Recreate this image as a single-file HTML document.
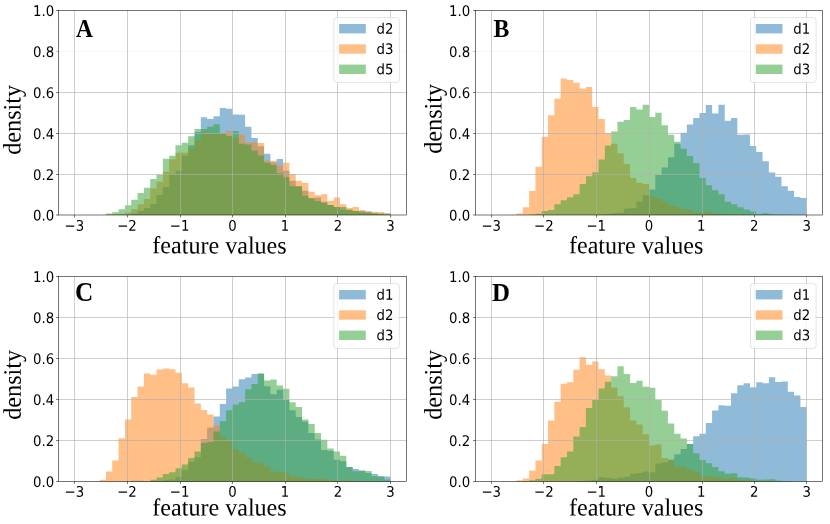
<!DOCTYPE html>
<html><head><meta charset="utf-8"><title>feature value densities</title>
<style>
html,body{margin:0;padding:0;background:#fff}
svg{display:block}
.t{font-family:"DejaVu Sans","Liberation Sans",sans-serif;font-size:13.3px;fill:#000}
.l{font-family:"Liberation Serif","Times New Roman",serif;font-size:24px;fill:#000}
.b{font-family:"Liberation Serif","Times New Roman",serif;font-size:24px;font-weight:bold;fill:#000}
</style></head><body>
<svg width="830" height="524" viewBox="0 0 830 524">
<rect width="830" height="524" fill="#fff"/>
<g id="panel-A">
<path d="M74.31 215.00V215.00H80.64V215.00H86.96V215.00H93.29V215.00H99.62V215.00H105.94V214.90H112.27V214.80H118.59V214.59H124.92V214.18H131.24V213.57H137.57V211.11H143.89V208.05H150.22V203.96H156.54V194.96H162.87V186.98H169.20V174.10H175.52V170.62H181.85V155.49H188.17V145.27H194.50V131.97H200.82V117.25H207.15V119.09H213.47V116.23H219.80V108.05H226.12V108.66H232.45V114.39H238.78V114.80H245.10V126.86H251.43V138.11H257.75V146.29H264.08V153.85H270.40V162.24H276.73V158.97H283.05V170.83H289.38V180.64H295.70V186.37H302.03V190.66H308.36V198.23H314.68V197.62H321.01V201.71H327.33V204.98H333.66V207.02H339.98V209.68H346.31V209.68H352.63V211.11H358.96V211.11H365.28V211.32H371.61V213.16H377.94V213.77H384.26V213.57H390.59V215.00Z" fill="#1f77b4" fill-opacity="0.5"/>
<path d="M74.31 215.00V215.00H80.64V215.00H86.96V215.00H93.29V215.00H99.62V215.00H105.94V214.80H112.27V214.39H118.59V214.18H124.92V212.55H131.24V209.27H137.57V204.16H143.89V199.05H150.22V188.62H156.54V181.67H162.87V171.85H169.20V159.17H175.52V152.63H181.85V152.63H188.17V148.33H194.50V140.15H200.82V132.18H207.15V133.20H213.47V133.20H219.80V133.61H226.12V131.36H232.45V137.49H238.78V134.84H245.10V142.61H251.43V142.20H257.75V143.02H264.08V160.40H270.40V160.81H276.73V165.51H283.05V162.85H289.38V174.10H295.70V180.85H302.03V182.89H308.36V191.69H314.68V195.16H321.01V194.35H327.33V201.09H333.66V197.62H339.98V204.16H346.31V207.84H352.63V207.02H358.96V209.89H365.28V211.93H371.61V211.73H377.94V211.93H384.26V213.57H390.59V215.00Z" fill="#ff7f0e" fill-opacity="0.5"/>
<path d="M74.31 215.00V215.00H80.64V215.00H86.96V215.00H93.29V215.00H99.62V215.00H105.94V213.57H112.27V212.14H118.59V209.27H124.92V205.18H131.24V199.87H137.57V193.12H143.89V187.80H150.22V179.01H156.54V174.71H162.87V158.76H169.20V155.69H175.52V145.27H181.85V142.81H188.17V136.27H194.50V128.91H200.82V129.11H207.15V126.86H213.47V124.20H219.80V133.20H226.12V136.06H232.45V130.95H238.78V143.83H245.10V144.45H251.43V150.58H257.75V155.49H264.08V162.65H270.40V165.10H276.73V173.28H283.05V177.37H289.38V186.37H295.70V186.37H302.03V195.78H308.36V198.23H314.68V201.09H321.01V202.73H327.33V204.98H333.66V207.02H339.98V207.02H346.31V209.68H352.63V211.11H358.96V212.14H365.28V212.75H371.61V213.16H377.94V213.77H384.26V214.39H390.59V215.00Z" fill="#2ca02c" fill-opacity="0.5"/>
<path d="M74.5 10.5V215.0M127.5 10.5V215.0M180.5 10.5V215.0M232.5 10.5V215.0M285.5 10.5V215.0M337.5 10.5V215.0M390.5 10.5V215.0" stroke="#b0b0b0" stroke-width="0.62" fill="none"/>
<path d="M58.5 174.5H406.5" stroke="#b0b0b0" stroke-width="0.62" stroke-opacity="1" fill="none"/>
<path d="M58.5 133.5H406.5" stroke="#b0b0b0" stroke-width="0.62" stroke-opacity="1" fill="none"/>
<path d="M58.5 92.5H406.5" stroke="#b0b0b0" stroke-width="0.62" stroke-opacity="1" fill="none"/>
<path d="M58.5 51.5H406.5" stroke="#b0b0b0" stroke-width="0.62" stroke-opacity="0.15" fill="none"/>
<path d="M74.5 215.0v2.4M127.5 215.0v2.4M180.5 215.0v2.4M232.5 215.0v2.4M285.5 215.0v2.4M337.5 215.0v2.4M390.5 215.0v2.4M58.5 215.0h-2.4M58.5 174.5h-2.4M58.5 133.5h-2.4M58.5 92.5h-2.4M58.5 10.5h-2.4" stroke="#000" stroke-width="0.54" fill="none"/>
<path d="M58.5 51.5h-2.4" stroke="#000" stroke-width="0.54" stroke-opacity="0.45" fill="none"/>
<rect x="58.5" y="10.5" width="348.00" height="204.50" fill="none" stroke="#000" stroke-width="0.54"/>
<text class="t" transform="translate(74.31 230.70) scale(1 1.1) rotate(0.05)" text-anchor="middle">−3</text>
<text class="t" transform="translate(127.03 230.70) scale(1 1.1) rotate(0.05)" text-anchor="middle">−2</text>
<text class="t" transform="translate(179.54 230.70) scale(1 1.1) rotate(0.05)" text-anchor="middle">−1</text>
<text class="t" transform="translate(232.45 230.70) scale(1 1.1) rotate(0.05)" text-anchor="middle">0</text>
<text class="t" transform="translate(284.86 230.70) scale(1 1.1) rotate(0.05)" text-anchor="middle">1</text>
<text class="t" transform="translate(337.87 230.70) scale(1 1.1) rotate(0.05)" text-anchor="middle">2</text>
<text class="t" transform="translate(390.59 230.70) scale(1 1.1) rotate(0.05)" text-anchor="middle">3</text>
<text class="t" transform="translate(54.10 220.50) scale(1 1.1) rotate(0.05)" text-anchor="end">0.0</text>
<text class="t" transform="translate(54.10 180.00) scale(1 1.1) rotate(0.05)" text-anchor="end">0.2</text>
<text class="t" transform="translate(54.10 139.00) scale(1 1.1) rotate(0.05)" text-anchor="end">0.4</text>
<text class="t" transform="translate(54.10 98.00) scale(1 1.1) rotate(0.05)" text-anchor="end">0.6</text>
<text class="t" transform="translate(54.10 57.00) scale(1 1.1) rotate(0.05)" text-anchor="end">0.8</text>
<text class="t" transform="translate(54.10 16.00) scale(1 1.1) rotate(0.05)" text-anchor="end">1.0</text>
<text class="l" transform="translate(219.50 253.40) scale(1.004 1.02) rotate(0.03)" text-anchor="middle">feature values</text>
<text class="l" transform="translate(20.60 119.80) rotate(-90.03) scale(1.01 1.05)" text-anchor="middle">density</text>
<text class="b" transform="translate(76.10 36.70) scale(0.977 1.04)">A</text>
<rect x="333.80" y="17.60" width="65.6" height="64.8" rx="2.6" fill="#fff" fill-opacity="0.8" stroke="#ccc" stroke-opacity="0.8" stroke-width="0.66"/>
<rect x="339.10" y="24.00" width="26.7" height="9.4" fill="#1f77b4" fill-opacity="0.5"/>
<text class="t" transform="translate(376.60 33.75) scale(1 1.09) rotate(0.05)">d2</text>
<rect x="339.10" y="44.30" width="26.7" height="9.4" fill="#ff7f0e" fill-opacity="0.5"/>
<text class="t" transform="translate(376.60 54.05) scale(1 1.09) rotate(0.05)">d3</text>
<rect x="339.10" y="64.60" width="26.7" height="9.4" fill="#2ca02c" fill-opacity="0.5"/>
<text class="t" transform="translate(376.60 74.35) scale(1 1.09) rotate(0.05)">d5</text>
</g>
<g id="panel-B">
<path d="M491.27 215.00V215.00H497.58V215.00H503.89V215.00H510.20V215.00H516.51V215.00H522.82V215.00H529.13V215.00H535.44V215.00H541.75V215.00H548.05V215.00H554.36V215.00H560.67V215.00H566.98V215.00H573.29V215.00H579.60V215.00H585.91V215.00H592.22V214.80H598.53V214.59H604.84V213.98H611.15V213.16H617.45V212.75H623.76V208.46H630.07V208.05H636.38V201.50H642.69V195.16H649.00V189.44H655.31V175.12H661.62V167.56H667.93V157.13H674.24V143.63H680.55V132.79H686.85V124.61H693.16V118.07H699.47V112.95H705.78V104.98H712.09V113.57H718.40V104.77H724.71V120.73H731.02V118.07H737.33V134.63H743.64V134.43H749.95V145.88H756.25V152.01H762.56V161.22H768.87V172.46H775.18V176.76H781.49V186.37H787.80V190.66H794.11V197.00H800.42V198.03H806.73V215.00Z" fill="#1f77b4" fill-opacity="0.5"/>
<path d="M491.27 215.00V215.00H497.58V215.00H503.89V215.00H510.20V214.80H516.51V213.57H522.82V207.23H529.13V191.07H535.44V166.74H541.75V136.68H548.05V115.20H554.36V98.64H560.67V78.39H566.98V80.03H573.29V82.69H579.60V88.62H585.91V86.98H592.22V107.02H598.53V119.09H604.84V133.00H611.15V143.83H617.45V153.24H623.76V163.88H630.07V177.99H636.38V182.69H642.69V184.12H649.00V196.39H655.31V198.44H661.62V201.50H667.93V205.18H674.24V207.02H680.55V209.07H686.85V210.09H693.16V211.93H699.47V212.75H705.78V211.52H712.09V213.16H718.40V213.57H724.71V213.98H731.02V214.39H737.33V214.59H743.64V214.80H749.95V215.00H756.25V215.00H762.56V215.00H768.87V215.00H775.18V215.00H781.49V215.00H787.80V215.00H794.11V215.00H800.42V215.00H806.73V215.00Z" fill="#ff7f0e" fill-opacity="0.5"/>
<path d="M491.27 215.00V215.00H497.58V215.00H503.89V215.00H510.20V215.00H516.51V215.00H522.82V215.00H529.13V214.59H535.44V213.77H541.75V211.11H548.05V209.89H554.36V204.37H560.67V200.28H566.98V197.21H573.29V194.35H579.60V184.12H585.91V176.35H592.22V172.26H598.53V159.38H604.84V145.47H611.15V131.56H617.45V121.75H623.76V119.91H630.07V107.02H636.38V109.48H642.69V104.77H649.00V117.04H655.31V112.75H661.62V125.22H667.93V134.84H674.24V141.79H680.55V148.74H686.85V155.90H693.16V163.06H699.47V177.99H705.78V185.14H712.09V190.26H718.40V194.35H724.71V201.71H731.02V204.37H737.33V207.23H743.64V209.48H749.95V211.52H756.25V213.98H762.56V213.36H768.87V213.98H775.18V214.39H781.49V214.59H787.80V214.80H794.11V215.00H800.42V215.00H806.73V215.00Z" fill="#2ca02c" fill-opacity="0.5"/>
<path d="M491.5 10.5V215.0M543.5 10.5V215.0M596.5 10.5V215.0M649.5 10.5V215.0M702.5 10.5V215.0M754.5 10.5V215.0M806.5 10.5V215.0" stroke="#b0b0b0" stroke-width="0.62" fill="none"/>
<path d="M475.5 174.5H822.5" stroke="#b0b0b0" stroke-width="0.62" stroke-opacity="1" fill="none"/>
<path d="M475.5 133.5H822.5" stroke="#b0b0b0" stroke-width="0.62" stroke-opacity="1" fill="none"/>
<path d="M475.5 92.5H822.5" stroke="#b0b0b0" stroke-width="0.62" stroke-opacity="1" fill="none"/>
<path d="M475.5 51.5H822.5" stroke="#b0b0b0" stroke-width="0.62" stroke-opacity="0.15" fill="none"/>
<path d="M491.5 215.0v2.4M543.5 215.0v2.4M596.5 215.0v2.4M649.5 215.0v2.4M702.5 215.0v2.4M754.5 215.0v2.4M806.5 215.0v2.4M475.5 215.0h-2.4M475.5 174.5h-2.4M475.5 133.5h-2.4M475.5 92.5h-2.4M475.5 10.5h-2.4" stroke="#000" stroke-width="0.54" fill="none"/>
<path d="M475.5 51.5h-2.4" stroke="#000" stroke-width="0.54" stroke-opacity="0.45" fill="none"/>
<rect x="475.5" y="10.5" width="347.00" height="204.50" fill="none" stroke="#000" stroke-width="0.54"/>
<text class="t" transform="translate(491.27 230.70) scale(1 1.1) rotate(0.05)" text-anchor="middle">−3</text>
<text class="t" transform="translate(543.85 230.70) scale(1 1.1) rotate(0.05)" text-anchor="middle">−2</text>
<text class="t" transform="translate(596.22 230.70) scale(1 1.1) rotate(0.05)" text-anchor="middle">−1</text>
<text class="t" transform="translate(649.00 230.70) scale(1 1.1) rotate(0.05)" text-anchor="middle">0</text>
<text class="t" transform="translate(701.28 230.70) scale(1 1.1) rotate(0.05)" text-anchor="middle">1</text>
<text class="t" transform="translate(754.15 230.70) scale(1 1.1) rotate(0.05)" text-anchor="middle">2</text>
<text class="t" transform="translate(806.73 230.70) scale(1 1.1) rotate(0.05)" text-anchor="middle">3</text>
<text class="t" transform="translate(470.10 220.50) scale(1 1.1) rotate(0.05)" text-anchor="end">0.0</text>
<text class="t" transform="translate(470.10 180.00) scale(1 1.1) rotate(0.05)" text-anchor="end">0.2</text>
<text class="t" transform="translate(470.10 139.00) scale(1 1.1) rotate(0.05)" text-anchor="end">0.4</text>
<text class="t" transform="translate(470.10 98.00) scale(1 1.1) rotate(0.05)" text-anchor="end">0.6</text>
<text class="t" transform="translate(470.10 57.00) scale(1 1.1) rotate(0.05)" text-anchor="end">0.8</text>
<text class="t" transform="translate(470.10 16.00) scale(1 1.1) rotate(0.05)" text-anchor="end">1.0</text>
<text class="l" transform="translate(636.10 253.40) scale(1.004 1.02) rotate(0.03)" text-anchor="middle">feature values</text>
<text class="l" transform="translate(441.60 118.80) rotate(-90.03) scale(1.01 1.05)" text-anchor="middle">density</text>
<text class="b" transform="translate(493.60 36.70) scale(0.99 1.035)">B</text>
<rect x="750.50" y="17.60" width="65.6" height="64.8" rx="2.6" fill="#fff" fill-opacity="0.8" stroke="#ccc" stroke-opacity="0.8" stroke-width="0.66"/>
<rect x="755.80" y="24.00" width="26.7" height="9.4" fill="#1f77b4" fill-opacity="0.5"/>
<text class="t" transform="translate(793.30 33.75) scale(1 1.09) rotate(0.05)">d1</text>
<rect x="755.80" y="44.30" width="26.7" height="9.4" fill="#ff7f0e" fill-opacity="0.5"/>
<text class="t" transform="translate(793.30 54.05) scale(1 1.09) rotate(0.05)">d2</text>
<rect x="755.80" y="64.60" width="26.7" height="9.4" fill="#2ca02c" fill-opacity="0.5"/>
<text class="t" transform="translate(793.30 74.35) scale(1 1.09) rotate(0.05)">d3</text>
</g>
<g id="panel-C">
<path d="M74.31 481.50V481.50H80.64V481.50H86.96V481.50H93.29V481.50H99.62V481.50H105.94V481.50H112.27V481.50H118.59V481.50H124.92V481.50H131.24V481.50H137.57V481.50H143.89V481.30H150.22V481.09H156.54V480.88H162.87V480.27H169.20V479.45H175.52V476.79H181.85V469.81H188.17V461.82H194.50V457.31H200.82V439.06H207.15V427.38H213.47V416.51H219.80V404.01H226.12V388.43H232.45V386.58H238.78V379.20H245.10V377.56H251.43V374.08H257.75V374.08H264.08V386.18H270.40V394.17H276.73V389.66H283.05V399.91H289.38V410.16H295.70V416.93H302.03V421.44H308.36V433.12H314.68V439.48H321.01V449.93H327.33V450.75H333.66V459.77H339.98V461.20H346.31V466.94H352.63V469.00H358.96V470.63H365.28V473.10H371.61V473.92H377.94V475.96H384.26V476.58H390.59V481.50Z" fill="#1f77b4" fill-opacity="0.5"/>
<path d="M74.31 481.50V481.50H80.64V481.50H86.96V481.50H93.29V481.30H99.62V479.86H105.94V471.45H112.27V460.38H118.59V438.25H124.92V419.38H131.24V397.04H137.57V386.38H143.89V373.46H150.22V374.69H156.54V369.57H162.87V368.54H169.20V369.37H175.52V372.64H181.85V383.31H188.17V387.61H194.50V403.39H200.82V409.95H207.15V414.47H213.47V425.53H219.80V436.40H226.12V441.12H232.45V448.90H238.78V452.80H245.10V457.31H251.43V462.02H257.75V463.46H264.08V466.54H270.40V471.87H276.73V471.25H283.05V472.69H289.38V476.58H295.70V476.99H302.03V478.22H308.36V479.04H314.68V479.04H321.01V478.63H327.33V479.86H333.66V480.27H339.98V480.48H346.31V480.68H352.63V480.88H358.96V481.09H365.28V481.09H371.61V481.30H377.94V481.30H384.26V481.30H390.59V481.50Z" fill="#ff7f0e" fill-opacity="0.5"/>
<path d="M74.31 481.50V481.50H80.64V481.50H86.96V481.50H93.29V481.50H99.62V481.50H105.94V481.50H112.27V481.50H118.59V481.50H124.92V481.50H131.24V480.68H137.57V480.68H143.89V481.30H150.22V479.65H156.54V477.61H162.87V473.92H169.20V472.27H175.52V468.18H181.85V464.49H188.17V457.93H194.50V451.57H200.82V442.96H207.15V441.94H213.47V431.48H219.80V421.23H226.12V410.37H232.45V404.62H238.78V402.37H245.10V389.25H251.43V384.12H257.75V373.26H264.08V380.44H270.40V379.62H276.73V385.56H283.05V388.63H289.38V402.37H295.70V407.09H302.03V419.38H308.36V424.10H314.68V433.12H321.01V439.68H327.33V448.50H333.66V451.57H339.98V455.67H346.31V466.94H352.63V471.25H358.96V470.43H365.28V471.05H371.61V476.17H377.94V476.99H384.26V479.45H390.59V481.50Z" fill="#2ca02c" fill-opacity="0.5"/>
<path d="M74.5 276.5V481.5M127.5 276.5V481.5M180.5 276.5V481.5M232.5 276.5V481.5M285.5 276.5V481.5M337.5 276.5V481.5M390.5 276.5V481.5" stroke="#b0b0b0" stroke-width="0.62" fill="none"/>
<path d="M58.5 440.5H406.5" stroke="#b0b0b0" stroke-width="0.62" stroke-opacity="1" fill="none"/>
<path d="M58.5 399.5H406.5" stroke="#b0b0b0" stroke-width="0.62" stroke-opacity="1" fill="none"/>
<path d="M58.5 358.5H406.5" stroke="#b0b0b0" stroke-width="0.62" stroke-opacity="1" fill="none"/>
<path d="M58.5 317.5H406.5" stroke="#b0b0b0" stroke-width="0.62" stroke-opacity="1" fill="none"/>
<path d="M74.5 481.5v2.4M127.5 481.5v2.4M180.5 481.5v2.4M232.5 481.5v2.4M285.5 481.5v2.4M337.5 481.5v2.4M390.5 481.5v2.4M58.5 481.5h-2.4M58.5 440.5h-2.4M58.5 399.5h-2.4M58.5 358.5h-2.4M58.5 317.5h-2.4M58.5 276.5h-2.4" stroke="#000" stroke-width="0.54" fill="none"/>
<rect x="58.5" y="276.5" width="348.00" height="205.00" fill="none" stroke="#000" stroke-width="0.54"/>
<text class="t" transform="translate(74.31 496.70) scale(1 1.1) rotate(0.05)" text-anchor="middle">−3</text>
<text class="t" transform="translate(127.03 496.70) scale(1 1.1) rotate(0.05)" text-anchor="middle">−2</text>
<text class="t" transform="translate(179.54 496.70) scale(1 1.1) rotate(0.05)" text-anchor="middle">−1</text>
<text class="t" transform="translate(232.45 496.70) scale(1 1.1) rotate(0.05)" text-anchor="middle">0</text>
<text class="t" transform="translate(284.86 496.70) scale(1 1.1) rotate(0.05)" text-anchor="middle">1</text>
<text class="t" transform="translate(337.87 496.70) scale(1 1.1) rotate(0.05)" text-anchor="middle">2</text>
<text class="t" transform="translate(390.59 496.70) scale(1 1.1) rotate(0.05)" text-anchor="middle">3</text>
<text class="t" transform="translate(54.10 487.00) scale(1 1.1) rotate(0.05)" text-anchor="end">0.0</text>
<text class="t" transform="translate(54.10 446.00) scale(1 1.1) rotate(0.05)" text-anchor="end">0.2</text>
<text class="t" transform="translate(54.10 405.00) scale(1 1.1) rotate(0.05)" text-anchor="end">0.4</text>
<text class="t" transform="translate(54.10 364.00) scale(1 1.1) rotate(0.05)" text-anchor="end">0.6</text>
<text class="t" transform="translate(54.10 323.00) scale(1 1.1) rotate(0.05)" text-anchor="end">0.8</text>
<text class="t" transform="translate(54.10 282.00) scale(1 1.1) rotate(0.05)" text-anchor="end">1.0</text>
<text class="l" transform="translate(219.50 515.50) scale(1.004 1.02) rotate(0.03)" text-anchor="middle">feature values</text>
<text class="l" transform="translate(20.80 384.80) rotate(-90.03) scale(1.01 1.05)" text-anchor="middle">density</text>
<text class="b" transform="translate(75.10 301.00) scale(1.055 1.098)">C</text>
<rect x="333.80" y="283.60" width="65.6" height="64.8" rx="2.6" fill="#fff" fill-opacity="0.8" stroke="#ccc" stroke-opacity="0.8" stroke-width="0.66"/>
<rect x="339.10" y="290.00" width="26.7" height="9.4" fill="#1f77b4" fill-opacity="0.5"/>
<text class="t" transform="translate(376.60 299.75) scale(1 1.09) rotate(0.05)">d1</text>
<rect x="339.10" y="310.30" width="26.7" height="9.4" fill="#ff7f0e" fill-opacity="0.5"/>
<text class="t" transform="translate(376.60 320.05) scale(1 1.09) rotate(0.05)">d2</text>
<rect x="339.10" y="330.60" width="26.7" height="9.4" fill="#2ca02c" fill-opacity="0.5"/>
<text class="t" transform="translate(376.60 340.35) scale(1 1.09) rotate(0.05)">d3</text>
</g>
<g id="panel-D">
<path d="M491.27 481.50V481.50H497.58V481.50H503.89V481.50H510.20V481.50H516.51V481.50H522.82V481.50H529.13V481.50H535.44V481.50H541.75V481.50H548.05V481.50H554.36V481.50H560.67V481.50H566.98V481.50H573.29V481.30H579.60V481.09H585.91V480.48H592.22V479.86H598.53V476.99H604.84V477.81H611.15V478.63H617.45V477.40H623.76V476.79H630.07V473.71H636.38V472.89H642.69V471.45H649.00V472.27H655.31V463.46H661.62V462.44H667.93V459.56H674.24V454.24H680.55V448.90H686.85V443.99H693.16V436.19H699.47V433.74H705.78V423.07H712.09V410.57H718.40V405.24H724.71V405.86H731.02V393.35H737.33V385.36H743.64V383.31H749.95V387.20H756.25V382.28H762.56V383.31H768.87V377.36H775.18V382.07H781.49V381.46H787.80V391.71H794.11V395.61H800.42V407.09H806.73V481.50Z" fill="#1f77b4" fill-opacity="0.5"/>
<path d="M491.27 481.50V481.50H497.58V481.50H503.89V481.50H510.20V481.30H516.51V480.27H522.82V478.43H529.13V470.43H535.44V460.59H541.75V443.99H548.05V420.62H554.36V401.75H560.67V383.72H566.98V382.28H573.29V369.77H579.60V357.27H585.91V364.65H592.22V361.57H598.53V369.37H604.84V375.51H611.15V387.61H617.45V396.22H623.76V407.29H630.07V420.62H636.38V424.51H642.69V434.35H649.00V445.62H655.31V444.60H661.62V457.93H667.93V460.59H674.24V467.36H680.55V466.54H686.85V469.81H693.16V471.87H699.47V475.76H705.78V476.58H712.09V476.99H718.40V477.81H724.71V478.43H731.02V477.40H737.33V479.65H743.64V480.06H749.95V480.48H756.25V480.88H762.56V480.88H768.87V481.09H775.18V481.30H781.49V481.50H787.80V481.50H794.11V481.50H800.42V481.50H806.73V481.50Z" fill="#ff7f0e" fill-opacity="0.5"/>
<path d="M491.27 481.50V481.50H497.58V481.50H503.89V481.50H510.20V481.50H516.51V481.50H522.82V481.09H529.13V480.27H535.44V478.63H541.75V474.32H548.05V474.32H554.36V466.12H560.67V457.31H566.98V451.57H573.29V436.40H579.60V426.97H585.91V408.11H592.22V399.91H598.53V388.43H604.84V381.67H611.15V376.33H617.45V366.29H623.76V373.88H630.07V382.89H636.38V380.64H642.69V386.79H649.00V387.81H655.31V399.91H661.62V410.77H667.93V423.49H674.24V433.74H680.55V438.45H686.85V443.99H693.16V453.21H699.47V459.98H705.78V463.25H712.09V466.94H718.40V471.25H724.71V473.71H731.02V473.30H737.33V477.19H743.64V477.61H749.95V478.43H756.25V479.65H762.56V479.45H768.87V479.25H775.18V480.48H781.49V481.09H787.80V481.30H794.11V481.50H800.42V481.50H806.73V481.50Z" fill="#2ca02c" fill-opacity="0.5"/>
<path d="M491.5 276.5V481.5M543.5 276.5V481.5M596.5 276.5V481.5M649.5 276.5V481.5M702.5 276.5V481.5M754.5 276.5V481.5M806.5 276.5V481.5" stroke="#b0b0b0" stroke-width="0.62" fill="none"/>
<path d="M475.5 440.5H822.5" stroke="#b0b0b0" stroke-width="0.62" stroke-opacity="1" fill="none"/>
<path d="M475.5 399.5H822.5" stroke="#b0b0b0" stroke-width="0.62" stroke-opacity="1" fill="none"/>
<path d="M475.5 358.5H822.5" stroke="#b0b0b0" stroke-width="0.62" stroke-opacity="1" fill="none"/>
<path d="M475.5 317.5H822.5" stroke="#b0b0b0" stroke-width="0.62" stroke-opacity="1" fill="none"/>
<path d="M491.5 481.5v2.4M543.5 481.5v2.4M596.5 481.5v2.4M649.5 481.5v2.4M702.5 481.5v2.4M754.5 481.5v2.4M806.5 481.5v2.4M475.5 481.5h-2.4M475.5 440.5h-2.4M475.5 399.5h-2.4M475.5 358.5h-2.4M475.5 317.5h-2.4M475.5 276.5h-2.4" stroke="#000" stroke-width="0.54" fill="none"/>
<rect x="475.5" y="276.5" width="347.00" height="205.00" fill="none" stroke="#000" stroke-width="0.54"/>
<text class="t" transform="translate(491.27 496.70) scale(1 1.1) rotate(0.05)" text-anchor="middle">−3</text>
<text class="t" transform="translate(543.85 496.70) scale(1 1.1) rotate(0.05)" text-anchor="middle">−2</text>
<text class="t" transform="translate(596.22 496.70) scale(1 1.1) rotate(0.05)" text-anchor="middle">−1</text>
<text class="t" transform="translate(649.00 496.70) scale(1 1.1) rotate(0.05)" text-anchor="middle">0</text>
<text class="t" transform="translate(701.28 496.70) scale(1 1.1) rotate(0.05)" text-anchor="middle">1</text>
<text class="t" transform="translate(754.15 496.70) scale(1 1.1) rotate(0.05)" text-anchor="middle">2</text>
<text class="t" transform="translate(806.73 496.70) scale(1 1.1) rotate(0.05)" text-anchor="middle">3</text>
<text class="t" transform="translate(470.10 487.00) scale(1 1.1) rotate(0.05)" text-anchor="end">0.0</text>
<text class="t" transform="translate(470.10 446.00) scale(1 1.1) rotate(0.05)" text-anchor="end">0.2</text>
<text class="t" transform="translate(470.10 405.00) scale(1 1.1) rotate(0.05)" text-anchor="end">0.4</text>
<text class="t" transform="translate(470.10 364.00) scale(1 1.1) rotate(0.05)" text-anchor="end">0.6</text>
<text class="t" transform="translate(470.10 323.00) scale(1 1.1) rotate(0.05)" text-anchor="end">0.8</text>
<text class="t" transform="translate(470.10 282.00) scale(1 1.1) rotate(0.05)" text-anchor="end">1.0</text>
<text class="l" transform="translate(636.10 515.50) scale(1.004 1.02) rotate(0.03)" text-anchor="middle">feature values</text>
<text class="l" transform="translate(441.60 384.80) rotate(-90.03) scale(1.01 1.05)" text-anchor="middle">density</text>
<text class="b" transform="translate(492.00 300.60) scale(1.035 1.06)">D</text>
<rect x="750.50" y="283.60" width="65.6" height="64.8" rx="2.6" fill="#fff" fill-opacity="0.8" stroke="#ccc" stroke-opacity="0.8" stroke-width="0.66"/>
<rect x="755.80" y="290.00" width="26.7" height="9.4" fill="#1f77b4" fill-opacity="0.5"/>
<text class="t" transform="translate(793.30 299.75) scale(1 1.09) rotate(0.05)">d1</text>
<rect x="755.80" y="310.30" width="26.7" height="9.4" fill="#ff7f0e" fill-opacity="0.5"/>
<text class="t" transform="translate(793.30 320.05) scale(1 1.09) rotate(0.05)">d2</text>
<rect x="755.80" y="330.60" width="26.7" height="9.4" fill="#2ca02c" fill-opacity="0.5"/>
<text class="t" transform="translate(793.30 340.35) scale(1 1.09) rotate(0.05)">d3</text>
</g>
</svg>
</body></html>
